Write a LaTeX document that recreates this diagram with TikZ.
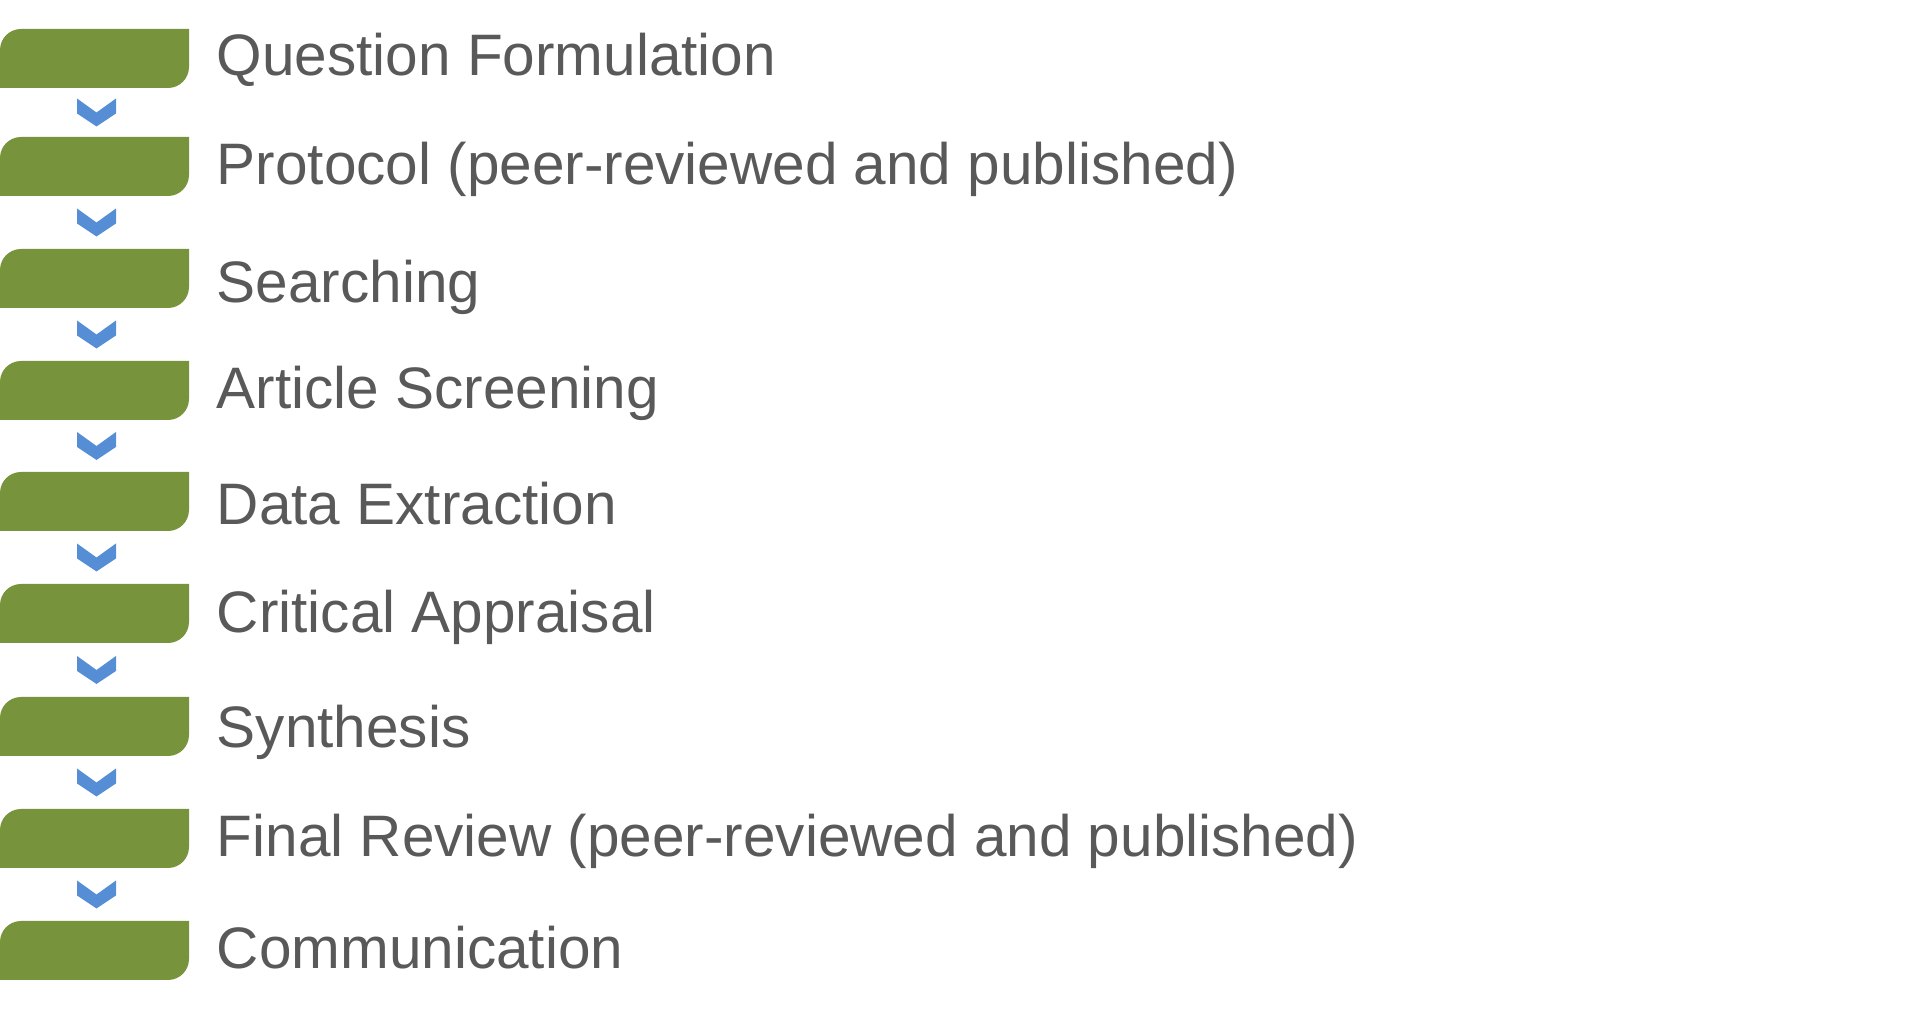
\documentclass[tikz,border=0pt]{standalone}
\usepackage{fontspec}
\setmainfont{Liberation Sans}
\usepackage{xcolor}
\usepackage{tikz}
\usetikzlibrary{calc, positioning}

\definecolor{stagegreen}{HTML}{77933C}
\definecolor{chevblue}{HTML}{558ED5}
\definecolor{labelgray}{HTML}{595959}

\begin{document}
\begin{tikzpicture}[x=0.5pt, y=0.5pt,
            stage/.style={rectangle, inner sep=0pt, minimum width=94.5pt, minimum height=29.5pt,
                path picture={
                    \fill[stagegreen] (path picture bounding box.south west) -- ++(0,38)
                        arc[start angle=180, end angle=90, radius=21]
                        -- (path picture bounding box.north east) -- ++(0,-38)
                        arc[start angle=0, end angle=-90, radius=21] -- cycle;
                }},
            stagelabel/.style={anchor=base west, inner sep=0pt, text=labelgray,
                font=\fontsize{29.25}{34}\selectfont},
            chevron/.pic={
                \fill[chevblue] (-19.5,14) -- (0,0) -- (19.5,14) -- (19.5,-1)
                    -- (0,-14) -- (-19.5,-1) -- cycle;
            }]

            \useasboundingbox (0,0) rectangle (1922,1016);

            % stages
            \node[stage] (s1) at (94.5,957.5) {};
            \node[stage] (s2) at (94.5,849.5) {};
            \node[stage] (s3) at (94.5,737.5) {};
            \node[stage] (s4) at (94.5,625.5) {};
            \node[stage] (s5) at (94.5,514.5) {};
            \node[stage] (s6) at (94.5,402.5) {};
            \node[stage] (s7) at (94.5,289.5) {};
            \node[stage] (s8) at (94.5,177.5) {};
            \node[stage] (s9) at (94.5,65.5) {};

            % labels
            \node[stagelabel] (l1) at ([xshift=13.5pt, yshift=-8.75pt]s1.east) {Question Formulation};
            \node[stagelabel] (l2) at ([xshift=13.5pt, yshift=-8.9pt]s2.east) {Protocol (peer-reviewed and published)};
            \node[stagelabel] (l3) at ([xshift=13.5pt, yshift=-12.1pt]s3.east) {Searching};
            \node[stagelabel] (l4) at ([xshift=13.5pt, yshift=-8.9pt]s4.east) {Article Screening};
            \node[stagelabel] (l5) at ([xshift=13.5pt, yshift=-11.75pt]s5.east) {Data Extraction};
            \node[stagelabel] (l6) at ([xshift=13.5pt, yshift=-9.4pt]s6.east) {Critical Appraisal};
            \node[stagelabel] (l7) at ([xshift=13.5pt, yshift=-10.75pt]s7.east) {Synthesis};
            \node[stagelabel] (l8) at ([xshift=13.5pt, yshift=-9.1pt]s8.east) {Final Review (peer-reviewed and published)};
            \node[stagelabel] (l9) at ([xshift=13.5pt, yshift=-8.9pt]s9.east) {Communication};

            % chevrons between stages
            \foreach \a/\b in {s1/s2, s2/s3, s3/s4, s4/s5, s5/s6, s6/s7, s7/s8, s8/s9}
                \pic at ($(\a.south)!0.5!(\b.north)+(2,0)$) {chevron};
        \end{tikzpicture}
\end{document}
